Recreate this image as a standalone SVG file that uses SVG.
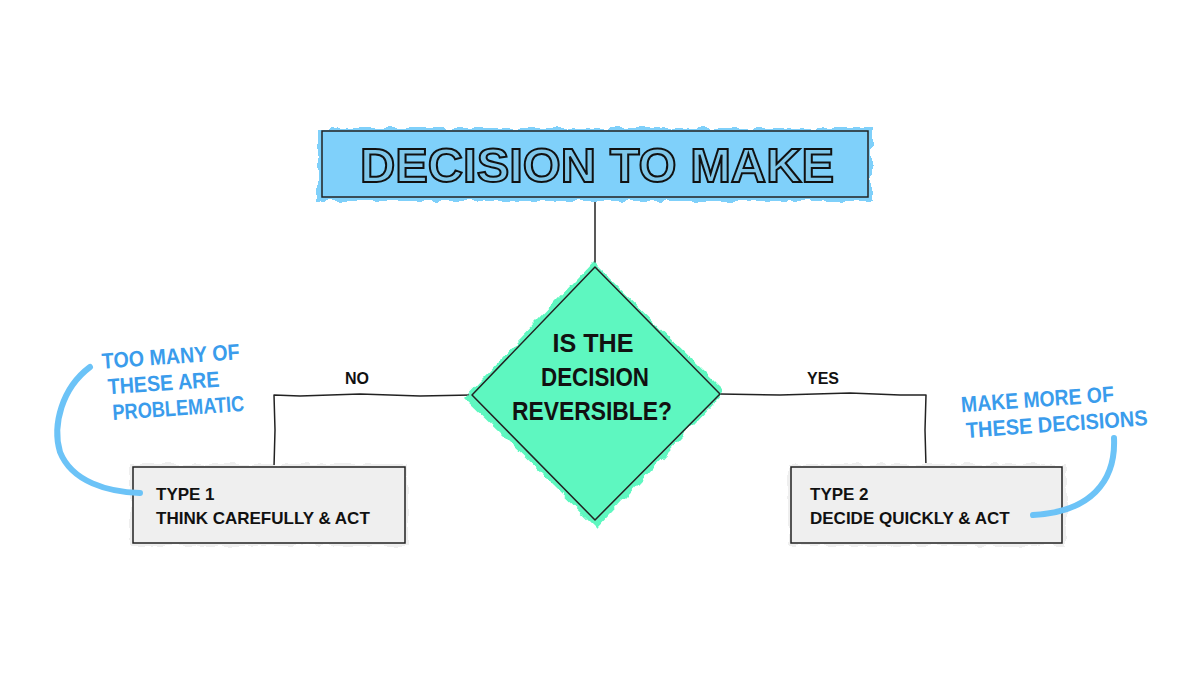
<svg xmlns="http://www.w3.org/2000/svg" width="1200" height="675" viewBox="0 0 1200 675">
  <defs>
    <filter id="rough" x="-10%" y="-10%" width="120%" height="120%">
      <feTurbulence type="fractalNoise" baseFrequency="0.08" numOctaves="2" seed="3" result="n"/>
      <feDisplacementMap in="SourceGraphic" in2="n" scale="8" xChannelSelector="R" yChannelSelector="G"/>
    </filter>
  </defs>
  <style>
    .edge { fill: none; stroke: #222; stroke-width: 1.5; stroke-linejoin: round; }
    .lbl { font-family: "Liberation Sans", Arial, sans-serif; font-weight: bold; fill: #111; }
    .note { font-family: "Liberation Sans", Arial, sans-serif; font-weight: bold; fill: #3a9cec; font-size: 22px; }
    .swoosh { fill: none; stroke: #6cc3f7; stroke-width: 6; stroke-linecap: round; }
    .boxtxt { font-family: "Liberation Sans", Arial, sans-serif; font-weight: bold; fill: #111; font-size: 17px; }
  </style>
  <rect width="1200" height="675" fill="#ffffff"/>

  <g id="connectors">
    <path class="edge" d="M595,197 L595,268"/>
    <path class="edge" d="M472,395 L420,396 L360,394 L300,396 L274,395 L275,430 L274,467"/>
    <path class="edge" d="M720,394 L780,395 L850,393 L900,395 L926,395 L925,430 L926,467"/>
    <text class="lbl" x="357" y="384" font-size="16" text-anchor="middle">NO</text>
    <text class="lbl" x="823" y="384" font-size="16" text-anchor="middle">YES</text>
  </g>

  <g id="title">
    <rect x="318" y="128" width="554" height="73" fill="#7fd0fa" filter="url(#rough)"/>
    <rect x="322" y="131" width="546" height="66" fill="#7fd0fa" stroke="#222" stroke-width="1.5"/>
    <text x="597" y="182" font-family="'Liberation Sans', Arial, sans-serif" font-weight="bold" font-size="48" text-anchor="middle" fill="#7fc7ea" stroke="#111" stroke-width="2" textLength="474" lengthAdjust="spacingAndGlyphs">DECISION TO MAKE</text>
  </g>

  <g id="decision">
    <polygon points="593,262 724,392 597,528 464,398" fill="#5ef7c0" filter="url(#rough)"/>
    <polygon points="595,267 720,394 595,520 472,395" fill="#5ef7c0" stroke="#222" stroke-width="1.5" stroke-linejoin="round"/>
    <text class="lbl" x="593" y="352" font-size="26" text-anchor="middle" textLength="81" lengthAdjust="spacingAndGlyphs">IS THE</text>
    <text class="lbl" x="595" y="386" font-size="26" text-anchor="middle" textLength="108" lengthAdjust="spacingAndGlyphs">DECISION</text>
    <text class="lbl" x="592" y="420" font-size="26" text-anchor="middle" textLength="160" lengthAdjust="spacingAndGlyphs">REVERSIBLE?</text>
  </g>

  <g id="type1">
    <rect x="130" y="464" width="278" height="82" fill="#efefef" filter="url(#rough)"/>
    <rect x="133" y="467" width="272" height="76" fill="#efefef" stroke="#222" stroke-width="1.5"/>
    <text class="boxtxt" x="156" y="500">TYPE 1</text>
    <text class="boxtxt" x="156" y="524">THINK CAREFULLY &amp; ACT</text>
  </g>

  <g id="type2">
    <rect x="788" y="464" width="278" height="82" fill="#efefef" filter="url(#rough)"/>
    <rect x="791" y="467" width="271" height="76" fill="#efefef" stroke="#222" stroke-width="1.5"/>
    <text class="boxtxt" x="810" y="500">TYPE 2</text>
    <text class="boxtxt" x="810" y="524">DECIDE QUICKLY &amp; ACT</text>
  </g>

  <g id="note-left">
    <g transform="rotate(-4 170 390)">
      <text class="note" x="104" y="364" textLength="138" lengthAdjust="spacingAndGlyphs">TOO MANY OF</text>
      <text class="note" x="108" y="390" textLength="112" lengthAdjust="spacingAndGlyphs">THESE ARE</text>
      <text class="note" x="111" y="416" textLength="132" lengthAdjust="spacingAndGlyphs">PROBLEMATIC</text>
    </g>
    <path class="swoosh" d="M90,367 C62,388 52,425 60,452 C72,482 108,492 140,493"/>
  </g>

  <g id="note-right">
    <g transform="rotate(-4 1050 415)">
      <text class="note" x="962" y="406" textLength="153" lengthAdjust="spacingAndGlyphs">MAKE MORE OF</text>
      <text class="note" x="965" y="432" textLength="182" lengthAdjust="spacingAndGlyphs">THESE DECISIONS</text>
    </g>
    <path class="swoosh" d="M1114,438 C1116,482 1090,512 1033,515"/>
  </g>
</svg>
